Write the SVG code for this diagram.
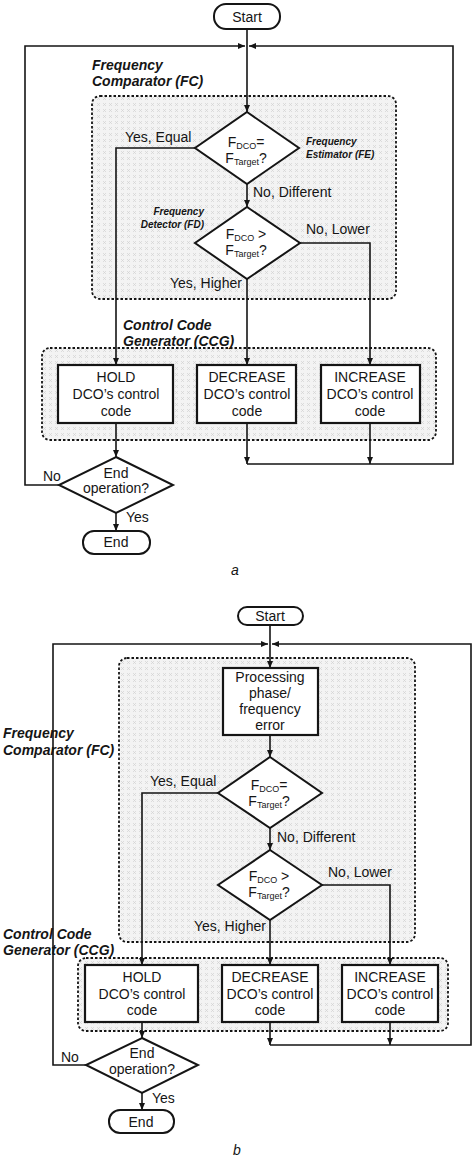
<svg xmlns="http://www.w3.org/2000/svg" width="474" height="1158" viewBox="0 0 474 1158">
<style>
.t{font-family:"Liberation Sans",Arial,sans-serif;font-size:14px;fill:#151515}
.m{text-anchor:middle}
.lab{font-family:"Liberation Sans",Arial,sans-serif;font-size:14px;font-weight:bold;font-style:italic;fill:#151515}
.sl{font-family:"Liberation Sans",Arial,sans-serif;font-size:10px;font-weight:bold;font-style:italic;fill:#151515}
.sub{font-size:9px}
.box{fill:#fff;stroke:#151515;stroke-width:2.2}
.dia{fill:#fff;stroke:#151515;stroke-width:2}
.term{fill:#fff;stroke:#151515;stroke-width:2}
.grp{fill:url(#dots);stroke:#151515;stroke-width:1.8;stroke-dasharray:2.5 2}
.c{fill:none;stroke:#151515;stroke-width:1.6;marker-end:url(#ah)}
</style>
<defs>
<pattern id="dots" width="6" height="6" patternUnits="userSpaceOnUse">
<rect width="6" height="6" fill="#f3f3f3"/>
<path d="M1,1 L4,4 M4,1 L1,4" stroke="#d2d2d2" stroke-width="0.7"/>
</pattern>
<marker id="ah" markerWidth="7" markerHeight="6" refX="7" refY="3" orient="auto" markerUnits="userSpaceOnUse">
<path d="M0,0 L7,3 L0,6 z" fill="#151515"/>
</marker>
</defs>
<rect width="474" height="1158" fill="#fff"/>

<!-- ===== Part a ===== -->
<g id="a-fc-group">
<rect class="grp" x="92" y="96" width="304" height="203" rx="8"/>
<text class="lab" x="92" y="70">Frequency</text>
<text class="lab" x="92" y="86">Comparator (FC)</text>
</g>
<g id="a-ccg-group">
<rect class="grp" x="42" y="348" width="394" height="92" rx="8"/>
<text class="lab" x="123" y="330">Control Code</text>
<text class="lab" x="123" y="346">Generator (CCG)</text>
</g>

<g id="a-connectors">
<path class="c" d="M247,29 V112"/>
<path class="c" d="M195,148 H116 V365"/>
<path class="c" d="M247,184 V207"/>
<path class="c" d="M300,243 H370 V365"/>
<path class="c" d="M247,279 V365"/>
<path class="c" d="M116,423 V457"/>
<path class="c" d="M247,423 V464"/>
<path class="c" d="M370,423 V464"/>
<path class="c" d="M247,464 H453 V46 H249"/>
<path class="c" d="M59,485 H25 V46 H245"/>
<path class="c" d="M116,513 V531"/>
<text class="t" x="125" y="142">Yes, Equal</text>
<text class="t" x="253" y="197">No, Different</text>
<text class="t" x="306" y="234">No, Lower</text>
<text class="t" x="170" y="288">Yes, Higher</text>
<text class="t" x="43" y="481">No</text>
<text class="t" x="126" y="522">Yes</text>
</g>

<g id="a-start">
<rect class="term" x="214" y="4" width="66" height="25" rx="12"/>
<text class="t m" x="247" y="22">Start</text>
</g>
<g id="a-fe">
<polygon class="dia" points="247,112 299,148 247,184 195,148"/>
<text class="t m" x="246" y="147">F<tspan class="sub" dy="2">DCO</tspan><tspan dy="-2">=</tspan></text>
<text class="t m" x="246" y="163">F<tspan class="sub" dy="2">Target</tspan><tspan dy="-2">?</tspan></text>
<text class="sl" x="306" y="145">Frequency</text>
<text class="sl" x="306" y="158">Estimator (FE)</text>
</g>
<g id="a-fd">
<polygon class="dia" points="247,207 300,243 247,279 195,243"/>
<text class="t m" x="246" y="239">F<tspan class="sub" dy="2">DCO</tspan><tspan dy="-2"> &gt;</tspan></text>
<text class="t m" x="246" y="255">F<tspan class="sub" dy="2">Target</tspan><tspan dy="-2">?</tspan></text>
<text class="sl" x="204" y="215" text-anchor="end">Frequency</text>
<text class="sl" x="204" y="228" text-anchor="end">Detector (FD)</text>
</g>
<g id="a-hold">
<rect class="box" x="58" y="365" width="115" height="58"/>
<text class="t m" x="116" y="382">HOLD</text>
<text class="t m" x="116" y="399">DCO’s control</text>
<text class="t m" x="116" y="416">code</text>
</g>
<g id="a-decrease">
<rect class="box" x="197" y="365" width="99" height="58"/>
<text class="t m" x="247" y="382">DECREASE</text>
<text class="t m" x="247" y="399">DCO’s control</text>
<text class="t m" x="247" y="416">code</text>
</g>
<g id="a-increase">
<rect class="box" x="321" y="365" width="99" height="58"/>
<text class="t m" x="370" y="382">INCREASE</text>
<text class="t m" x="370" y="399">DCO’s control</text>
<text class="t m" x="370" y="416">code</text>
</g>
<g id="a-endop">
<polygon class="dia" points="116,457 173,485 116,513 59,485"/>
<text class="t m" x="116" y="478">End</text>
<text class="t m" x="116" y="493">operation?</text>
</g>
<g id="a-end">
<rect class="term" x="83" y="531" width="67" height="23" rx="11"/>
<text class="t m" x="116" y="547">End</text>
</g>
<text class="t m" x="235" y="575" font-style="italic">a</text>

<!-- ===== Part b ===== -->
<g id="b-fc-group">
<rect class="grp" x="119" y="658" width="296" height="284" rx="8"/>
</g>
<g id="b-ccg-group">
<rect class="grp" x="78" y="958" width="370" height="73" rx="8"/>
</g>

<g id="b-connectors">
<path class="c" d="M270,625 V668"/>
<path class="c" d="M270,735 V757"/>
<path class="c" d="M218,793 H142 V965"/>
<path class="c" d="M270,828 V850"/>
<path class="c" d="M322,885 H390 V965"/>
<path class="c" d="M270,920 V965"/>
<path class="c" d="M142,1022 V1038"/>
<path class="c" d="M270,1022 V1045"/>
<path class="c" d="M390,1022 V1045"/>
<path class="c" d="M270,1045 H471 V644 H272"/>
<path class="c" d="M86,1065 H53 V644 H268"/>
<path class="c" d="M142,1093 V1110"/>
<text class="t" x="150" y="786">Yes, Equal</text>
<text class="t" x="277" y="842">No, Different</text>
<text class="t" x="328" y="877">No, Lower</text>
<text class="t" x="194" y="931">Yes, Higher</text>
<text class="t" x="61" y="1062">No</text>
<text class="t" x="152" y="1103">Yes</text>
</g>
<g id="b-fc-label">
<text class="lab" x="3" y="738">Frequency</text>
<text class="lab" x="3" y="755">Comparator (FC)</text>
</g>
<g id="b-ccg-label">
<text class="lab" x="3" y="939">Control Code</text>
<text class="lab" x="3" y="955">Generator (CCG)</text>
</g>

<g id="b-start">
<rect class="term" x="238" y="607" width="65" height="18" rx="9"/>
<text class="t m" x="270" y="621">Start</text>
</g>
<g id="b-processing">
<rect class="box" x="223" y="668" width="95" height="67" stroke-width="3"/>
<text class="t m" x="270" y="682">Processing</text>
<text class="t m" x="270" y="698">phase/</text>
<text class="t m" x="270" y="714">frequency</text>
<text class="t m" x="270" y="730">error</text>
</g>
<g id="b-fe">
<polygon class="dia" points="270,757 322,793 270,828 218,793"/>
<text class="t m" x="269" y="790">F<tspan class="sub" dy="2">DCO</tspan><tspan dy="-2">=</tspan></text>
<text class="t m" x="269" y="806">F<tspan class="sub" dy="2">Target</tspan><tspan dy="-2">?</tspan></text>
</g>
<g id="b-fd">
<polygon class="dia" points="270,850 322,885 270,920 218,885"/>
<text class="t m" x="269" y="881">F<tspan class="sub" dy="2">DCO</tspan><tspan dy="-2"> &gt;</tspan></text>
<text class="t m" x="269" y="897">F<tspan class="sub" dy="2">Target</tspan><tspan dy="-2">?</tspan></text>
</g>
<g id="b-hold">
<rect class="box" x="85" y="965" width="113" height="57"/>
<text class="t m" x="142" y="982">HOLD</text>
<text class="t m" x="142" y="999">DCO’s control</text>
<text class="t m" x="142" y="1015">code</text>
</g>
<g id="b-decrease">
<rect class="box" x="222" y="965" width="96" height="57"/>
<text class="t m" x="270" y="982">DECREASE</text>
<text class="t m" x="270" y="999">DCO’s control</text>
<text class="t m" x="270" y="1015">code</text>
</g>
<g id="b-increase">
<rect class="box" x="342" y="965" width="96" height="57"/>
<text class="t m" x="390" y="982">INCREASE</text>
<text class="t m" x="390" y="999">DCO’s control</text>
<text class="t m" x="390" y="1015">code</text>
</g>
<g id="b-endop">
<polygon class="dia" points="142,1038 198,1065 142,1093 86,1065"/>
<text class="t m" x="142" y="1058">End</text>
<text class="t m" x="142" y="1074">operation?</text>
</g>
<g id="b-end">
<rect class="term" x="109" y="1110" width="65" height="23" rx="11"/>
<text class="t m" x="141" y="1127">End</text>
</g>
<text class="t m" x="237" y="1155" font-style="italic">b</text>
</svg>
